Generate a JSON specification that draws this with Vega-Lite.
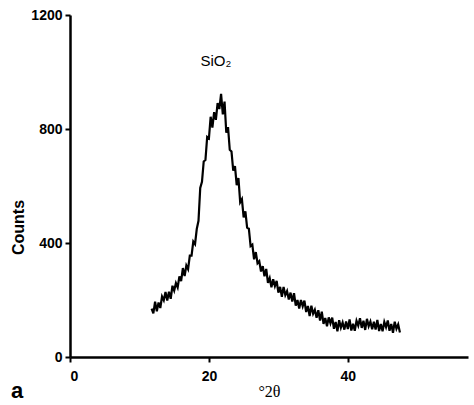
{
  "$schema": "https://vega.github.io/schema/vega-lite/v6.json",
  "width": 398,
  "height": 342,
  "autosize": {"type": "none"},
  "padding": {"left": 70, "top": 15, "right": 6, "bottom": 48},
  "background": "white",
  "config": {"view": {"stroke": null}, "font": "Liberation Sans"},
  "title": {"text": "a", "orient": "bottom", "anchor": "start", "frame": "bounds", "fontSize": 22, "fontWeight": "bold", "font": "Liberation Sans", "color": "black", "offset": 0, "dy": -18, "dx": 1},
  "datasets": {
    "xrd": [
      {"t":11.75,"c":170},{"t":12.0,"c":153},{"t":12.25,"c":194},{"t":12.5,"c":160},{"t":12.75,"c":191},{"t":13.0,"c":172},{"t":13.25,"c":212},{"t":13.5,"c":199},
      {"t":13.75,"c":228},{"t":14.0,"c":198},{"t":14.25,"c":229},{"t":14.5,"c":204},{"t":14.75,"c":250},{"t":15.0,"c":233},{"t":15.25,"c":259},{"t":15.5,"c":244},
      {"t":15.75,"c":283},{"t":16.0,"c":266},{"t":16.25,"c":312},{"t":16.5,"c":284},{"t":16.75,"c":321},{"t":17.0,"c":308},{"t":17.25,"c":356},{"t":17.5,"c":356},
      {"t":17.75,"c":405},{"t":18.0,"c":396},{"t":18.25,"c":449},{"t":18.5,"c":478},{"t":18.75,"c":593},{"t":19.0,"c":615},{"t":19.25,"c":686},{"t":19.5,"c":691},
      {"t":19.75,"c":772},{"t":20.0,"c":767},{"t":20.25,"c":843},{"t":20.5,"c":805},{"t":20.75,"c":859},{"t":21.0,"c":832},{"t":21.25,"c":891},{"t":21.5,"c":870},
      {"t":21.75,"c":923},{"t":22.0,"c":851},{"t":22.25,"c":896},{"t":22.5,"c":787},{"t":22.75,"c":807},{"t":23.0,"c":727},{"t":23.25,"c":721},{"t":23.5,"c":654},
      {"t":23.75,"c":670},{"t":24.0,"c":603},{"t":24.25,"c":628},{"t":24.5,"c":543},{"t":24.75,"c":554},{"t":25.0,"c":490},{"t":25.25,"c":511},{"t":25.5,"c":454},
      {"t":25.75,"c":450},{"t":26.0,"c":389},{"t":26.25,"c":394},{"t":26.5,"c":343},{"t":26.75,"c":368},{"t":27.0,"c":329},{"t":27.25,"c":336},{"t":27.5,"c":300},
      {"t":27.75,"c":319},{"t":28.0,"c":283},{"t":28.25,"c":309},{"t":28.5,"c":260},{"t":28.75,"c":277},{"t":29.0,"c":245},{"t":29.25,"c":273},{"t":29.5,"c":249},
      {"t":29.75,"c":267},{"t":30.0,"c":226},{"t":30.25,"c":246},{"t":30.5,"c":211},{"t":30.75,"c":246},{"t":31.0,"c":217},{"t":31.25,"c":231},{"t":31.5,"c":202},
      {"t":31.75,"c":226},{"t":32.0,"c":195},{"t":32.25,"c":224},{"t":32.5,"c":180},{"t":32.75,"c":200},{"t":33.0,"c":170},{"t":33.25,"c":200},{"t":33.5,"c":178},
      {"t":33.75,"c":198},{"t":34.0,"c":158},{"t":34.25,"c":179},{"t":34.5,"c":144},{"t":34.75,"c":180},{"t":35.0,"c":152},{"t":35.25,"c":166},{"t":35.5,"c":138},
      {"t":35.75,"c":164},{"t":36.0,"c":128},{"t":36.25,"c":159},{"t":36.5,"c":116},{"t":36.75,"c":137},{"t":37.0,"c":108},{"t":37.25,"c":139},{"t":37.5,"c":118},
      {"t":37.75,"c":138},{"t":38.0,"c":99},{"t":38.25,"c":123},{"t":38.5,"c":90},{"t":38.75,"c":129},{"t":39.0,"c":103},{"t":39.25,"c":121},{"t":39.5,"c":96},
      {"t":39.75,"c":125},{"t":40.0,"c":98},{"t":40.25,"c":132},{"t":40.5,"c":93},{"t":40.75,"c":117},{"t":41.0,"c":92},{"t":41.25,"c":127},{"t":41.5,"c":110},
      {"t":41.75,"c":136},{"t":42.0,"c":102},{"t":42.25,"c":127},{"t":42.5,"c":95},{"t":42.75,"c":134},{"t":43.0,"c":108},{"t":43.25,"c":124},{"t":43.5,"c":97},
      {"t":43.75,"c":124},{"t":44.0,"c":96},{"t":44.25,"c":130},{"t":44.5,"c":91},{"t":44.75,"c":116},{"t":45.0,"c":90},{"t":45.25,"c":123},{"t":45.5,"c":105},
      {"t":45.75,"c":128},{"t":46.0,"c":92},{"t":46.25,"c":116},{"t":46.5,"c":85},{"t":46.75,"c":124},{"t":47.0,"c":99},{"t":47.25,"c":114},{"t":47.5,"c":86}
    ],
    "labels": [{"t": 21.0, "c": 1039, "label": "SiO₂"}]
  },
  "layer": [
    {
      "data": {"name": "xrd"},
      "mark": {"type": "line", "color": "black", "strokeWidth": 2.2, "interpolate": "linear"},
      "encoding": {
        "x": {"field": "t", "type": "quantitative", "scale": {"domain": [0, 57.3], "nice": false},
          "axis": {"values": [0, 20, 40], "format": "d", "title": "°2θ", "titleFont": "Liberation Serif", "titleFontSize": 16, "titleFontWeight": "normal", "titleColor": "black", "titlePadding": 0,
            "labelFont": "Liberation Sans", "labelFontSize": 14, "labelFontWeight": "bold", "labelColor": "black", "labelPadding": 7,
            "domainColor": "black", "domainWidth": 2.5, "tickColor": "black", "tickWidth": 2, "tickSize": 5, "grid": false}},
        "y": {"field": "c", "type": "quantitative", "scale": {"domain": [0, 1200], "nice": false},
          "axis": {"values": [0, 400, 800, 1200], "format": "d", "title": "Counts", "titleFont": "Liberation Sans", "titleFontSize": 16, "titleFontWeight": "bold", "titleColor": "black", "titleX": -52, "titleY": 212, "titleAngle": -90, "titleAlign": "center", "titleBaseline": "middle",
            "labelFont": "Liberation Sans", "labelFontSize": 14, "labelFontWeight": "bold", "labelColor": "black", "labelPadding": 3,
            "domainColor": "black", "domainWidth": 2.5, "tickColor": "black", "tickWidth": 2, "tickSize": 5, "grid": false}}
      }
    },
    {
      "data": {"name": "labels"},
      "mark": {"type": "text", "fontSize": 15, "font": "Liberation Sans", "color": "black", "align": "center", "baseline": "middle"},
      "encoding": {
        "x": {"field": "t", "type": "quantitative"},
        "y": {"field": "c", "type": "quantitative"},
        "text": {"field": "label"}
      }
    }
  ]
}
